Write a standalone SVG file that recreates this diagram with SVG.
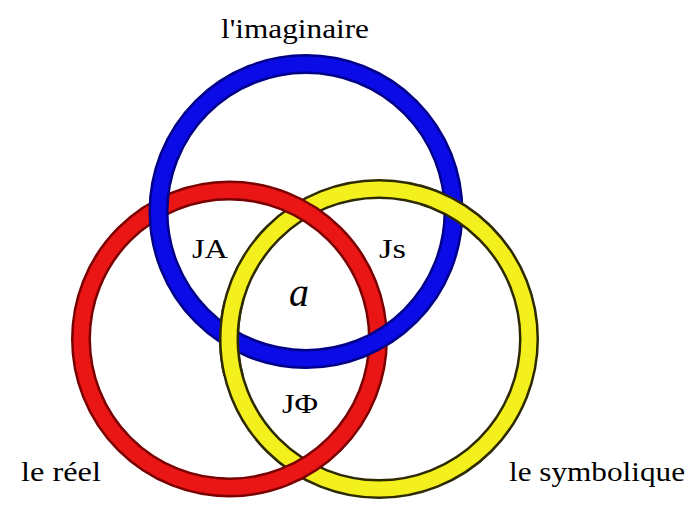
<svg xmlns="http://www.w3.org/2000/svg" width="699" height="520" viewBox="0 0 699 520">
<style>
.edge{fill:none;stroke-width:20}
.core{fill:none;stroke-width:15}
.b-e{stroke:#000088}.b-c{stroke:#0b0be8}
.r-e{stroke:#7a0000}.r-c{stroke:#ea1515}
.y-e{stroke:#2e2a00}.y-c{stroke:#f4f01e}
text{font-family:"Liberation Serif","Noto Serif","DejaVu Serif",serif;fill:#000}
.lbl{font-size:28px}
.j{font-size:27px}
</style>
<defs>
<clipPath id="clipL"><rect x="205" y="300" width="50" height="76"/></clipPath>
<clipPath id="clipR"><rect x="420" y="180" width="70" height="60"/></clipPath>
</defs>
<rect width="699" height="520" fill="#ffffff"/>
<g id="ring-yellow">
<circle class="edge y-e" cx="379" cy="339" r="150"/>
<circle class="core y-c" cx="379" cy="339" r="150"/>
</g>
<g id="ring-red">
<circle class="edge r-e" cx="229.5" cy="339" r="148.5"/>
<circle class="core r-c" cx="229.5" cy="339" r="148.5"/>
</g>
<g id="ring-blue">
<circle class="edge b-e" cx="306" cy="211.5" r="147.5"/>
<circle class="core b-c" cx="306" cy="211.5" r="147.5"/>
</g>
<g id="crossings">
<use href="#ring-yellow" clip-path="url(#clipL)"/>
<use href="#ring-yellow" clip-path="url(#clipR)"/>
</g>
<g id="labels">
<text class="lbl" x="221" y="38" textLength="148" lengthAdjust="spacingAndGlyphs">l'imaginaire</text>
<text class="lbl" x="21" y="481" textLength="80" lengthAdjust="spacingAndGlyphs">le réel</text>
<text class="lbl" x="509" y="481" textLength="176" lengthAdjust="spacingAndGlyphs">le symbolique</text>
<text class="j" x="192" y="258" textLength="36" lengthAdjust="spacingAndGlyphs">JA</text>
<text class="j" x="379" y="258" textLength="27" lengthAdjust="spacingAndGlyphs">Js</text>
<text x="289" y="306" font-size="40" font-style="italic">a</text>
<text class="j" x="282" y="413" textLength="36" lengthAdjust="spacingAndGlyphs">JΦ</text>
</g>
</svg>
